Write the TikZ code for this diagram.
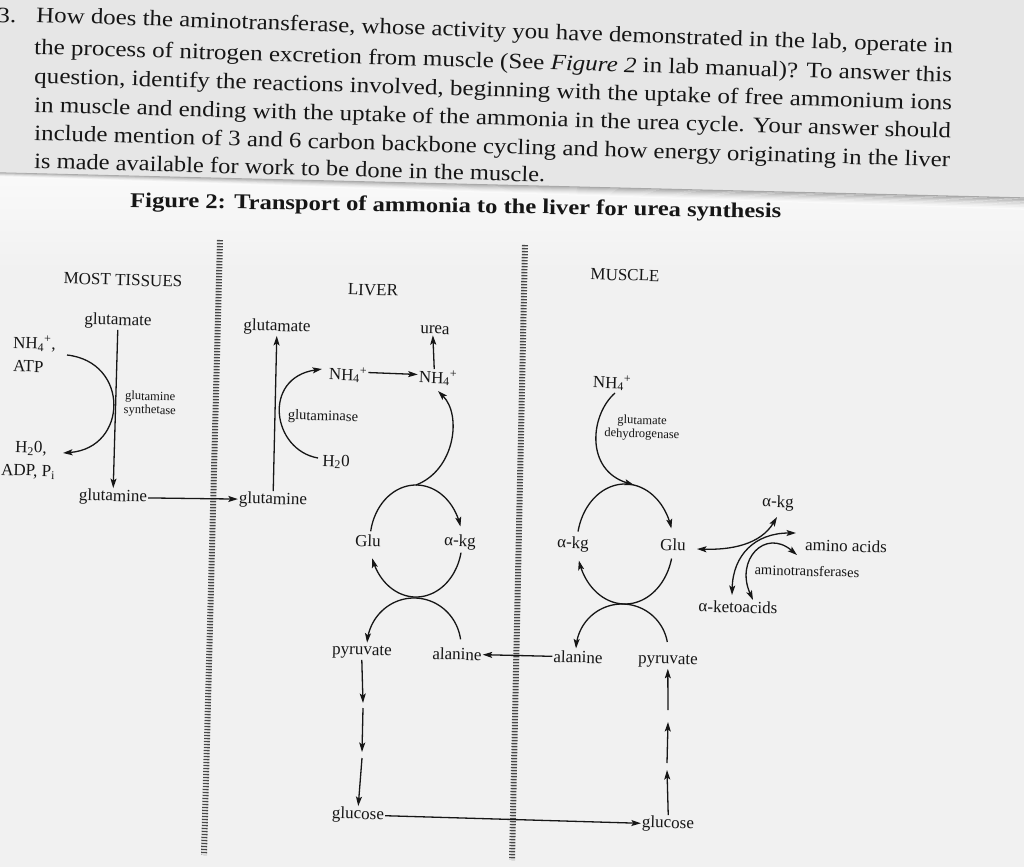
\documentclass[tikz,border=0pt]{standalone}
\usepackage{fontspec}
\setmainfont{Liberation Serif}
\usetikzlibrary{arrows.meta}
\definecolor{pagebg}{RGB}{241,241,241}
\definecolor{paper}{RGB}{230,230,230}
\definecolor{ink}{RGB}{22,22,22}
\newcommand{\nhf}{NH\textsubscript{4}\textsuperscript{+}}
\begin{document}
\begin{tikzpicture}[x=1pt,y=-1pt,
  lbl/.style={font=\fontsize{17}{19}\selectfont, inner sep=1pt, rotate=-1.5, text=ink},
  sml/.style={font=\fontsize{12.5}{13.5}\selectfont, inner sep=1pt, rotate=-1.5, align=center, text=ink},
  mdl/.style={font=\fontsize{14.5}{16}\selectfont, inner sep=1pt, rotate=-1.5, text=ink},
  hdr/.style={font=\fontsize{22}{24}\selectfont, anchor=base west, inner sep=0pt, text=ink},
  tip/.tip={Stealth[length=9.5pt,width=6pt,inset=2pt]},
  arr/.style={draw=ink, line width=1.3pt, -tip},
  barr/.style={draw=ink, line width=1.3pt, tip-tip},
  divider/.style={line width=6pt, dash pattern=on 1.4pt off 1.6pt, draw=black!72}]
\clip (0,0) rectangle (1024,867);
\useasboundingbox (0,0) rectangle (1024,867);
% backgrounds
\fill[pagebg] (0,0) rectangle (1024,867);
\shade[top color=black!2, bottom color=pagebg] (0,170) rectangle (1024,270);
\fill[paper] (0,0) -- (1024,0) -- (1024,198) -- (0,173) -- cycle;
\foreach \i/\c in {0/34,1/28,2/23,3/18,4/14,5/10,6/7,7/4,8/2} {
  \draw[line width=1.3pt, draw=black!\c] (0,173+0.5*\i) -- (1024,198+1.4*\i);
}
% header text
\node[hdr, rotate=-1.94] (n3) at (-3,22) {\resizebox{19pt}{\height}{3.}};
\node[hdr, rotate=-1.94] (h1) at (36,22) {\resizebox{917pt}{\height}{How does the aminotransferase, whose activity you have demonstrated in the lab, operate in}};
\node[hdr, rotate=-1.75] (h2) at (34,54) {\resizebox{918pt}{\height}{the process of nitrogen excretion from muscle (See \textit{Figure 2} in lab manual)? To answer this}};
\node[hdr, rotate=-1.69] (h3) at (34,83) {\resizebox{918pt}{\height}{question, identify the reactions involved, beginning with the uptake of free ammonium ions}};
\node[hdr, rotate=-1.62] (h4) at (34,112) {\resizebox{917pt}{\height}{in muscle and ending with the uptake of the ammonia in the urea cycle. Your answer should}};
\node[hdr, rotate=-1.69] (h5) at (34,140) {\resizebox{916pt}{\height}{include mention of 3 and 6 carbon backbone cycling and how energy originating in the liver}};
\node[hdr, rotate=-1.57] (h6) at (34,168) {\resizebox{511pt}{\height}{is made available for work to be done in the muscle.}};
\node[hdr, rotate=-0.97, font=\fontsize{21}{24}\selectfont\bfseries] (title) at (130,207) {\resizebox{651pt}{\height}{Figure 2: Transport of ammonia to the liver for urea synthesis}};
% dividers
\draw[divider] (220,240) -- (204,855);
\draw[divider] (525,245) -- (512,860);
% labels
\node[lbl] (mt) at (123,280) {MOST TISSUES};
\node[lbl] (lv) at (373,290) {LIVER};
\node[lbl] (ms) at (625,275) {MUSCLE};
\node[lbl] (gluMT) at (118,321) {glutamate};
\node[lbl, anchor=west] (nhMT) at (12,343) {\nhf,};
\node[lbl, anchor=west] (atp) at (12,366) {ATP};
\node[sml] (gsyn) at (150,404) {glutamine\\synthetase};
\node[lbl, anchor=west] (h2oMT) at (14,448) {H\textsubscript{2}0,};
\node[lbl, anchor=west] (adp) at (0,471) {ADP, P\textsubscript{i}};
\node[lbl] (glnMT) at (113,497) {glutamine};
\node[lbl] (gluL) at (277,327) {glutamate};
\node[lbl] (glnL) at (273,500) {glutamine};
\node[lbl] (nhL1) at (348,375) {\nhf};
\node[lbl] (nhL2) at (438,378) {\nhf};
\node[lbl] (urea) at (435,330) {urea};
\node[mdl] (gase) at (323,417) {glutaminase};
\node[lbl] (h2oL) at (336,462) {H\textsubscript{2}0};
\node[lbl] (GluL) at (368,541) {Glu};
\node[lbl] (akgL) at (460,542) {α-kg};
\node[lbl] (pyrL) at (362,652) {pyruvate};
\node[lbl] (alaL) at (457,654) {alanine};
\node[lbl] (glcL) at (358,815) {glucose};
\node[lbl] (nhM) at (612,383) {\nhf};
\node[sml] (gdh) at (642,428) {glutamate\\dehydrogenase};
\node[lbl] (akgM) at (573,544) {α-kg};
\node[lbl] (GluM) at (673,545) {Glu};
\node[lbl] (akgR) at (778,503) {α-kg};
\node[lbl] (aa) at (846,546) {amino acids};
\node[mdl] (atf) at (807,571) {aminotransferases};
\node[lbl] (keto) at (738,607) {α-ketoacids};
\node[lbl] (alaM) at (578,657) {alanine};
\node[lbl] (pyrM) at (668,661) {pyruvate};
\node[lbl] (glcM) at (668,824) {glucose};
% named coordinates for free curve ends
\coordinate (mtS) at (67,355); \coordinate (mtE) at (63,453);
\coordinate (gaS) at (318,458); \coordinate (gaE) at (322,369);
\coordinate (c1top) at (416,485); \coordinate (nhL2in) at (438,391);
\coordinate (ghS) at (615,393); \coordinate (ghE) at (634,485);
\coordinate (xGlu) at (697,549); \coordinate (xakg) at (777,517);
\coordinate (xaa1) at (796,533); \coordinate (xaa2) at (797,555);
\coordinate (xk1) at (732,595); \coordinate (xk2) at (753,600);
\coordinate (p2) at (363,703); \coordinate (p3) at (363,708);
\coordinate (p4) at (362,752); \coordinate (p5) at (362,758);
\coordinate (m1) at (667,770); \coordinate (m2) at (667,763);
\coordinate (m3) at (668,722); \coordinate (m4) at (668,710);
% most tissues
\draw[arr] (gluMT.south) -- (glnMT.north);
\draw[arr] (mtS) .. controls (130,362) and (128,448) .. (mtE);
\draw[arr] (glnMT.east) -- (glnL.west);
% liver
\draw[arr] (glnL.north) -- (gluL.south);
\draw[arr] (gaS) .. controls (272,450) and (262,378) .. (gaE);
\draw[arr] ([yshift=3pt]nhL1.east) -- ([yshift=3pt]nhL2.west);
\draw[arr] ([xshift=-4pt]nhL2.north) -- ([xshift=-2pt]urea.south);
\draw[arr] (c1top) .. controls (455,470) and (462,415) .. (nhL2in);
\draw[arr] plot[domain=190:345, samples=60] ({416+46*cos(\x)},{541+56*sin(\x)});
\draw[arr] plot[domain=12:162, samples=60] ({416+46*cos(\x)},{541+56*sin(\x)});
\draw[arr] plot[domain=8:176, samples=60] ({414+47*cos(\x)},{646-48*sin(\x)});
\draw[arr] (pyrL.south) -- (p2);
\draw[arr] (p3) -- (p4);
\draw[arr] (p5) -- (glcL.north);
\draw[arr] (glcL.east) -- (glcM.west);
% muscle
\draw[arr] (ghS) .. controls (590,415) and (585,470) .. (ghE);
\draw[arr] plot[domain=192:345, samples=60] ({625+48*cos(\x)},{544+60*sin(\x)});
\draw[arr] plot[domain=14:164, samples=60] ({625+48*cos(\x)},{544+60*sin(\x)});
\draw[arr] plot[domain=10:178, samples=60] ({622+46*cos(\x)},{650-46*sin(\x)});
\draw[arr] (alaM.west) -- (alaL.east);
\draw[arr] (glcM.north) -- (m1);
\draw[arr] (m2) -- (m3);
\draw[arr] (m4) -- (pyrM.south);
% aminotransferase cross
\draw[barr] (xGlu) .. controls (730,550) and (760,545) .. (xakg);
\draw[barr] (xk1) .. controls (733,555) and (755,533) .. (xaa1);
\draw[barr] (xk2) .. controls (735,560) and (765,528) .. (xaa2);
\end{tikzpicture}
\end{document}
